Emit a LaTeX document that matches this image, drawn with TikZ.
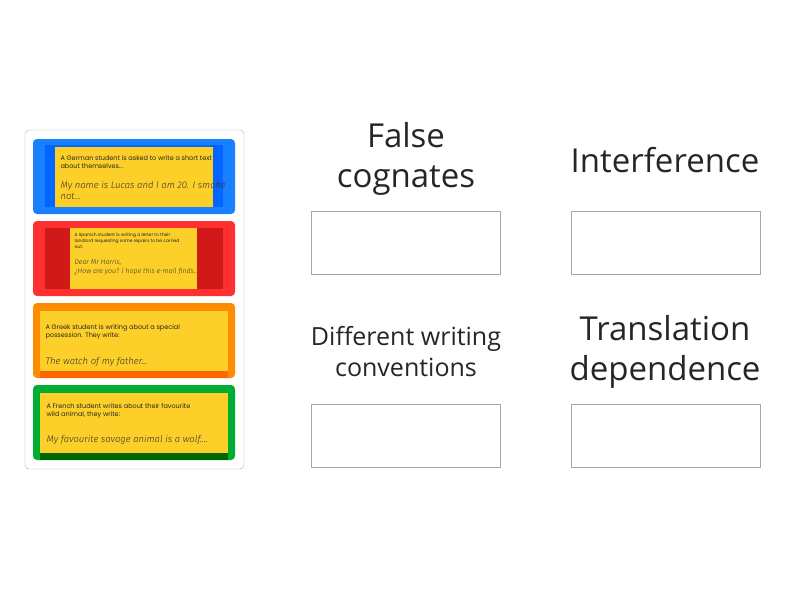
\documentclass[tikz,border=0pt]{standalone}
\usepackage{fontspec}
\setmainfont{Open Sans}
\newfontfamily\popp{Poppins}
\newfontfamily\hand{Fira Sans Light}
\begin{document}
\begin{tikzpicture}[x=1pt,y=-1pt,
  card/.style={rounded corners=4pt,draw=none},
  note/.style={fill=yellow!60!orange!85!white,draw=none},
  small/.style={font=\popp\fontsize{6.5}{8}\selectfont,align=left,anchor=north west,text=black!85},
  hw/.style={font=\hand\itshape\fontsize{9.5}{11}\selectfont,align=left,anchor=north west,text=black!80},
  title/.style={font=\fontsize{33}{40}\selectfont,align=center,text=black!85},
  box/.style={draw=gray!70,fill=white}]
\useasboundingbox (0,0) rectangle (800,600);
\draw[rounded corners=4pt,draw=gray!60,fill=white] (25,130) rectangle (244,469);
% cards
\fill[card,fill=blue!55!cyan!90!white] (33,139) rectangle (235,214);
\fill[blue!60!cyan] (45,145) rectangle (223,207);
\fill[note] (55,147) rectangle (213,207);
\node[small] (t1) at (57,152) {A German student is asked to write a short text\\about themselves...};
\node[hw] (h1) at (57,178) {My name is Lucas and I am 20. I smoke\\not...};
\fill[card,fill=red!75!pink] (33,221) rectangle (235,296);
\fill[red!80!black!90] (45,228) rectangle (223,289);
\fill[note] (70,228) rectangle (197,289);
\node[small,font=\popp\fontsize{4.5}{6}\selectfont] (t2) at (71,230) {A Spanish student is writing a letter to their\\landlord requesting some repairs to be carried\\out:};
\node[hw,font=\hand\itshape\fontsize{7}{9}\selectfont] (h2) at (71,256) {Dear Mr Harris,\\¿How are you? I hope this e-mail finds...};
\fill[card,fill=orange!90!yellow] (33,303) rectangle (235,378);
\fill[orange!80!red] (40,370) rectangle (228,378);
\fill[note] (40,311) rectangle (228,371);
\node[small] (t3) at (42,321) {A Greek student is writing about a special\\possession. They write:};
\node[hw] (h3) at (42,354) {The watch of my father...};
\fill[card,fill=green!60!black!80!cyan] (33,385) rectangle (235,460);
\fill[green!40!black] (40,452) rectangle (228,460);
\fill[note] (40,393) rectangle (228,453);
\node[small] (t4) at (43,400) {A French student writes about their favourite\\wild animal, they write:};
\node[hw] (h4) at (43,432) {My favourite savage animal is a wolf....};
% titles and boxes
\node[title] (l1) at (406,159) {False\\cognates};
\node[title] (l2) at (665,160) {Interference};
\node[title,font=\fontsize{25}{31}\selectfont] (l3) at (406,352) {Different writing\\conventions};
\node[title] (l4) at (665,352) {Translation\\dependence};
\draw[box] (311,211) rectangle (500,274);
\draw[box] (571,211) rectangle (760,274);
\draw[box] (311,404) rectangle (500,467);
\draw[box] (571,404) rectangle (760,467);
\end{tikzpicture}
\end{document}
